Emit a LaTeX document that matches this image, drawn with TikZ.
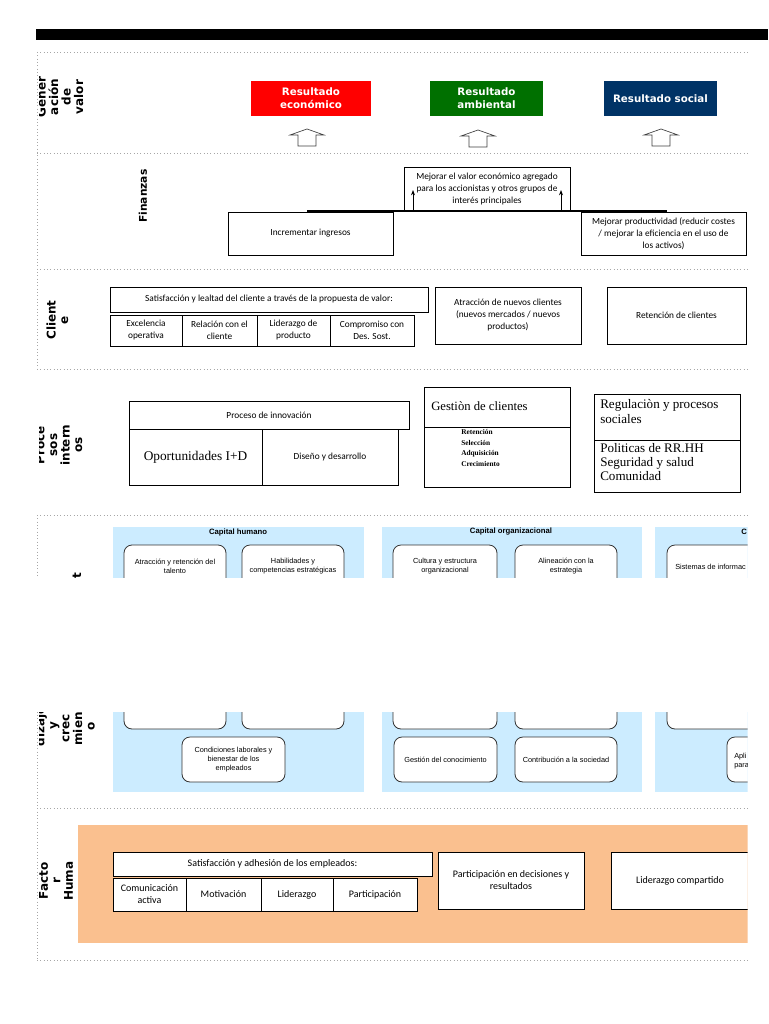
\documentclass[tikz,border=0pt]{standalone}
\usepackage{fontspec}
\setmainfont{Carlito}
\newfontfamily\dvs{DejaVu Sans}
\newfontfamily\lsans{Liberation Sans}
\newfontfamily\lserif{Liberation Serif}
\usetikzlibrary{arrows.meta}
\definecolor{lblue}{RGB}{204,236,255}
\definecolor{orng}{RGB}{250,192,143}
\definecolor{rgreen}{RGB}{0,112,0}
\definecolor{rnavy}{RGB}{0,51,102}
\newcommand\fsz[2]{\fontsize{#1}{#2}\selectfont}
\newcommand\bx[7][]{\node[#1,minimum width={(#4-#2)*0.75pt},minimum height={(#5-#3)*0.75pt}] (#6) at ({(#2+#4)/2},{(#3+#5)/2}) {#7};}
\tikzset{
 sq/.style={draw=black, line width=0.6pt, fill=white, inner sep=1pt, outer sep=0pt, align=center, font=\fsz{7}{9}},
 res/.style={draw=none, inner sep=0pt, outer sep=0pt, align=center, text=white, font=\dvs\bfseries\fsz{7.7}{10}},
 lbl/.style={rotate=90, align=center, inner sep=0pt, font=\dvs\bfseries\fsz{9}{9.4}},
 sec/.style={gray!70, dotted, line width=0.5pt},
 panel/.style={fill=lblue, draw=none, inner sep=0pt, outer sep=0pt},
 rbox/.style={draw=black!80, line width=0.6pt, fill=white, rounded corners=6pt, inner sep=0pt, outer sep=0pt},
 rtext/.style={align=center, inner sep=0pt, font=\lsans\fsz{5.5}{6.8}},
 ptitle/.style={inner sep=0pt, font=\lsans\bfseries\fsz{5.8}{7}},
 serifbig/.style={inner sep=0pt, font=\lserif\fsz{9.5}{11}},
 link/.style={line width=1.1pt},
 upline/.style={-{Stealth[length=4pt,width=3pt]}, line width=0.6pt},
 blockarrow/.pic={\draw[fill=white,draw=black!75,line width=0.5pt] (-17,6) -- (0,0) -- (17,6) -- (9,6) -- (9,17) -- (-9,17) -- (-9,6) -- cycle;}
}
\begin{document}
\begin{tikzpicture}[x=0.75pt,y=-0.75pt]
\useasboundingbox (0,0) rectangle (768,1024);
\fill[white] (0,0) rectangle (768,1024);
\fill[black] (36,29) rectangle (768,40);
% section borders
\foreach \yy in {52,153,269,369,515,808,960} \draw[sec] (37,\yy) -- (748,\yy);
\draw[sec] (37,52) -- (37,369);
\draw[sec] (37,515) -- (37,960);
% section labels (first lines cut at the left edge)
\begin{scope}
\clip (39.5,0) rectangle (768,1024);
\node[lbl] (lgen) at (60,97) {Gener\\ación\\de\\valor};
\node[lbl] (lpro) at (59,445) {Proce\\sos\\intern\\os};
\node[lbl] (lapr) at (65,726) {dizaje\\y\\creci\\mient\\o};
\end{scope}
\begin{scope}
\clip (38,0) rectangle (768,1024);
\node[lbl] (lfac) at (56,881) {Facto\\r\\Huma};
\end{scope}
\node[lbl,font=\dvs\bfseries\fsz{8}{9}] (lfin) at (143,196) {Finanzas};
\node[lbl] (lcli) at (57.5,320) {Client\\e};
\node[lbl] (tfrag) at (77,576) {t};
% results
\bx[res,fill=red]{251}{81}{371}{116}{reco}{Resultado\\económico}
\bx[res,fill=rgreen]{430}{81}{543}{116}{ramb}{Resultado\\ambiental}
\bx[res,fill=rnavy]{604}{81}{717}{116}{rsoc}{Resultado social}
\pic at (307,129) {blockarrow};
\pic at (478,130) {blockarrow};
\pic at (661,129) {blockarrow};
% finanzas
\bx[sq]{404}{167}{570}{211}{fval}{Mejorar el valor económico agregado\\para los accionistas y otros grupos de\\interés principales}
\bx[sq]{228}{212}{393}{255}{finc}{Incrementar ingresos}
\bx[sq]{581}{212}{746}{255}{fprod}{Mejorar productividad (reducir costes\\/ mejorar la eficiencia en el uso de\\los activos)}
\coordinate (fl) at (307,211);
\coordinate (fr) at (667,211);
\coordinate (fa1) at (413,211);
\coordinate (fa2) at (561,211);
\draw[link] (fl) -- (fr);
\draw[upline] (fa1) -- ++(0,-21);
\draw[upline] (fa2) -- ++(0,-21);
% clientes
\bx[sq]{110}{287}{428}{312}{csat}{Satisfacción y lealtad del cliente a través de la propuesta de valor:}
\bx[sq]{110}{315}{182}{346}{c1}{Excelencia\\operativa}
\bx[sq]{182}{315}{257}{346}{c2}{Relación con el\\cliente}
\bx[sq]{257}{315}{330}{346}{c3}{Liderazgo de\\producto}
\bx[sq]{330}{315}{414}{346}{c4}{Compromiso con\\Des. Sost.}
\bx[sq]{435}{287}{581}{344}{catr}{Atracción de nuevos clientes\\(nuevos mercados / nuevos\\productos)}
\bx[sq]{607}{287}{746}{344}{cret}{Retención de clientes}
% procesos internos
\bx[sq]{129}{401}{409}{429}{pinn}{Proceso de innovación}
\bx[sq,font=\lserif\fsz{10}{12}]{129}{429}{262}{485}{pid}{Oportunidades I+D}
\bx[sq]{262}{429}{398}{485}{pdis}{Diseño y desarrollo}
\bx[sq]{424}{387}{570}{427}{pges}{}
\node[serifbig,anchor=west] (tges) at (431,406) {Gestiòn de clientes};
\bx[sq]{424}{427}{570}{487}{pgesl}{}
\node[anchor=north west, inner sep=0pt, align=left, font=\lserif\bfseries\fsz{5.5}{8}] (tgesl) at (461,429) {Retención\\Selección\\Adquisición\\Crecimiento};
\bx[sq]{594}{394}{740}{440}{preg}{}
\node[anchor=north west, inner sep=0pt, align=left, font=\lserif\fsz{9.8}{11}] (treg) at (600,399) {Regulaciòn y procesos\\sociales};
\bx[sq]{594}{440}{740}{492}{ppol}{}
\node[anchor=north west, inner sep=0pt, align=left, font=\lserif\fsz{9.8}{10.5}] (tpol) at (600,443) {Politicas de RR.HH\\Seguridad y salud\\Comunidad};
% aprendizaje y factor humano (clipped right)
\begin{scope}
\clip (0,0) rectangle (747.5,1024);
\bx[panel]{113}{527}{364}{792}{pan1}{}
\node[ptitle] (tp1) at (238,532) {Capital humano};
\bx[panel]{382}{527}{642}{792}{pan2}{}
\node[ptitle] (tp2) at (511,532) {Capital organizacional};
\bx[panel]{655}{527}{900}{792}{pan3}{}
\node[ptitle,anchor=west] (tp3) at (741,532) {C};
\bx[rbox]{124}{545}{226}{729}{a1}{}
\node[rtext] (ta1) at (175,566) {Atracción y retención del\\talento};
\bx[rbox]{242}{545}{344}{729}{a2}{}
\node[rtext] (ta2) at (293,566) {Habilidades y\\competencias estratégicas};
\bx[rbox,rtext]{182}{737}{285}{782}{a3}{Condiciones laborales y\\bienestar de los\\empleados}
\bx[rbox]{393}{545}{497}{729}{a4}{}
\node[rtext] (ta4) at (445,566) {Cultura y estructura\\organizacional};
\bx[rbox]{515}{545}{617}{729}{a5}{}
\node[rtext] (ta5) at (566,566) {Alineación con la\\estrategia};
\bx[rbox,rtext]{394}{737}{497}{782}{a6}{Gestión del conocimiento}
\bx[rbox,rtext]{515}{737}{617}{782}{a7}{Contribución a la sociedad}
\bx[rbox]{667}{545}{830}{729}{a8}{}
\node[rtext,anchor=west] (ta8) at (675,567) {Sistemas de informac};
\bx[rbox]{727}{737}{830}{782}{a9}{}
\node[rtext,anchor=west,align=left] (ta9) at (734,761) {Apli\\para};
% factor humano
\bx[panel,fill=orng]{78}{825}{748}{943}{fhpan}{}
\bx[sq,font=\fsz{7.5}{9}]{113}{852}{432}{876}{fsat}{Satisfacción y adhesión de los empleados:}
\bx[sq,font=\fsz{7.5}{9}]{113}{878}{186}{911}{f1}{Comunicación\\activa}
\bx[sq,font=\fsz{7.5}{9}]{186}{878}{261}{911}{f2}{Motivación}
\bx[sq,font=\fsz{7.5}{9}]{261}{878}{333}{911}{f3}{Liderazgo}
\bx[sq,font=\fsz{7.5}{9}]{333}{878}{417}{911}{f4}{Participación}
\bx[sq,font=\fsz{7.5}{9}]{438}{852}{584}{909}{fpar}{Participación en decisiones y\\resultados}
\bx[sq,font=\fsz{7.5}{9}]{611}{852}{749}{909}{flid}{Liderazgo compartido}
\end{scope}
% white band hiding the middle of the learning section
\fill[white] (0,578) rectangle (768,712);
\end{tikzpicture}
\end{document}
